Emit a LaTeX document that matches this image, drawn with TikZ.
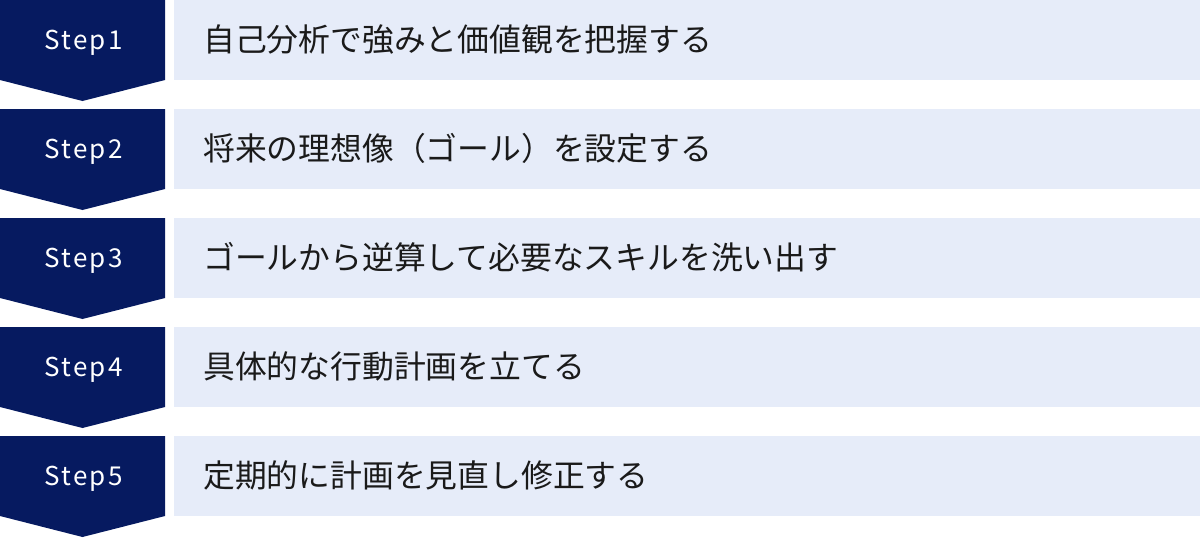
\documentclass[tikz,border=0pt]{standalone}
\usepackage{fontspec}
\newfontfamily\jpfont{Noto Sans CJK JP}
\newfontfamily\stepfont[LetterSpace=9]{Noto Sans CJK JP}
\definecolor{navy}{HTML}{061A60}
\definecolor{barbg}{HTML}{E6ECF9}
\definecolor{txt}{HTML}{1A1A1A}
\tikzset{
  badge/.style={fill=navy},
  bar/.style={fill=barbg},
  steplabel/.style={anchor=base, inner sep=0pt, text=white, font=\stepfont\fontsize{26}{30}\selectfont},
  steptext/.style={anchor=base west, inner sep=0pt, text=txt, font=\jpfont\fontsize{31.8}{36}\selectfont},
}
\begin{document}
\begin{tikzpicture}[x=1pt,y=-1pt]
\useasboundingbox (0,0) rectangle (1200,538);
\foreach \i/\txt in {1/自己分析で強みと価値観を把握する,2/将来の理想像（ゴール）を設定する,3/ゴールから逆算して必要なスキルを洗い出す,4/具体的な行動計画を立てる,5/定期的に計画を見直し修正する}{
  \pgfmathsetmacro{\t}{109*(\i-1)}
  \fill[badge] (0,\t) -- (165,\t) -- (165,\t+80) -- (82.5,\t+101) -- (0,\t+80) -- cycle;
  \fill[bar] (174,\t) rectangle (1200,\t+80);
  \node[steplabel] (s\i) at (83.5,\t+49) {Step\i};
  \node[steptext] (t\i) at (203,\t+51.5) {\txt};
}
\end{tikzpicture}
\end{document}
